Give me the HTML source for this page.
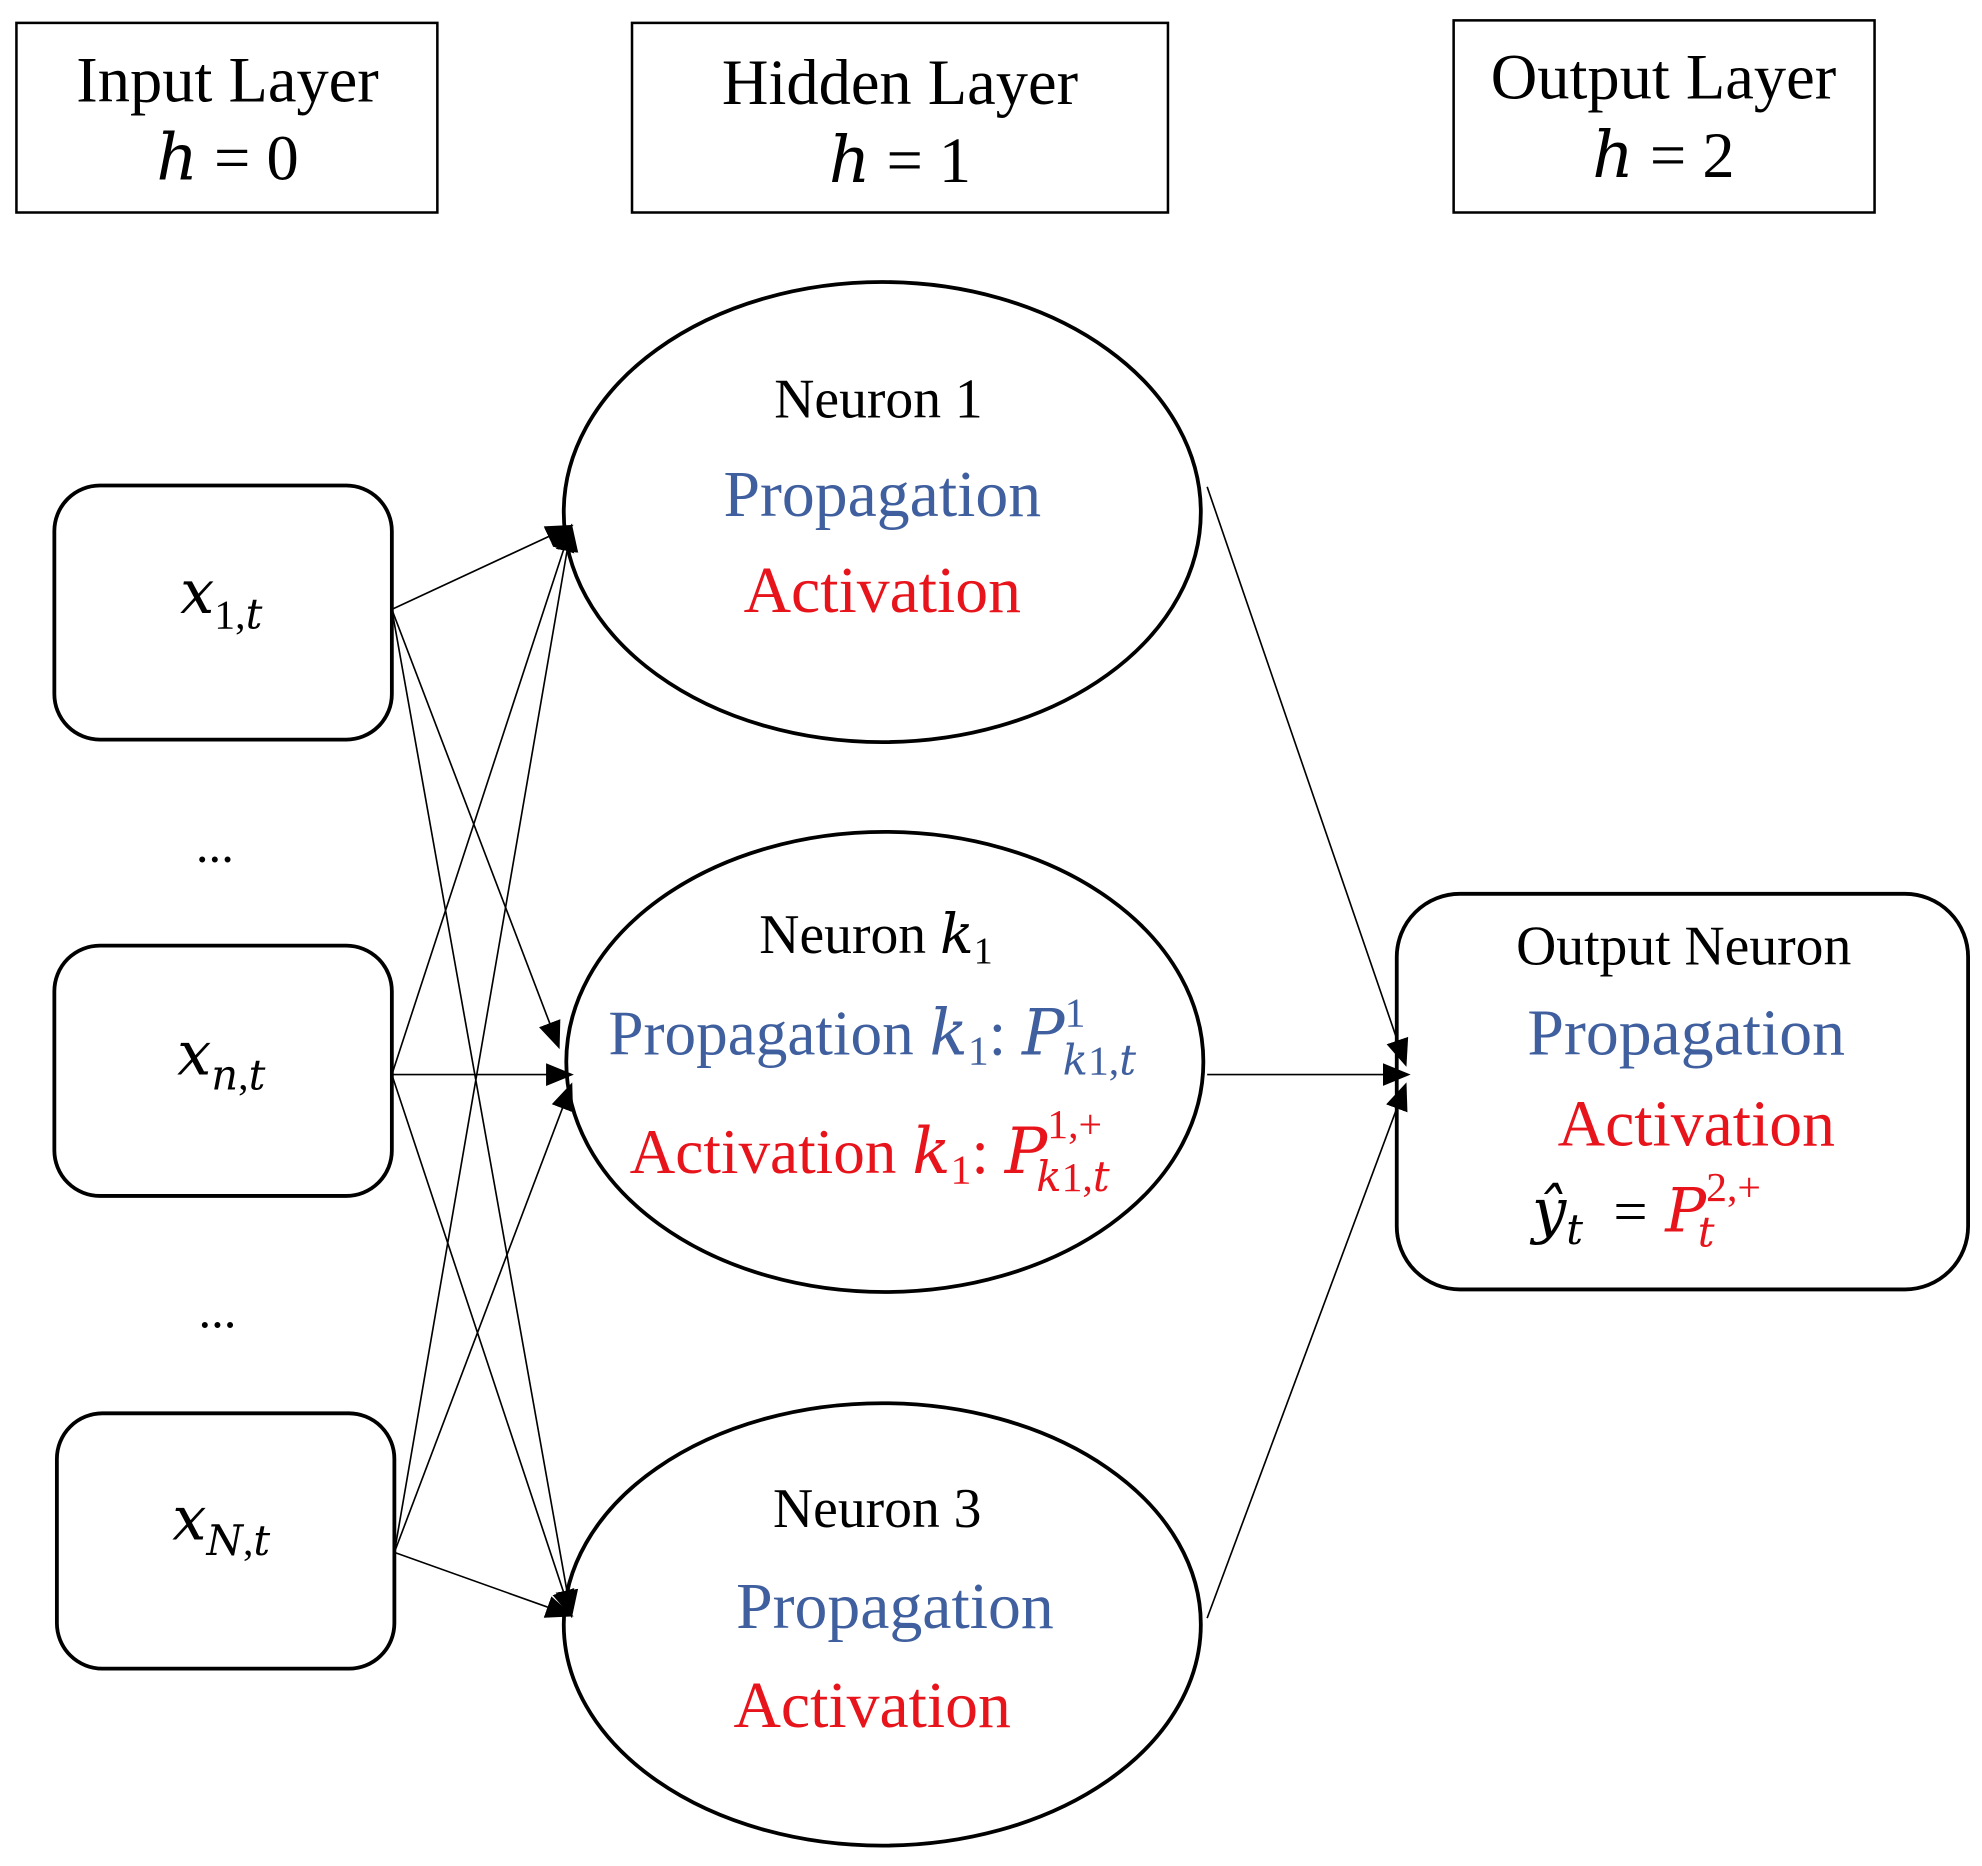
<!DOCTYPE html>
<html><head><meta charset="utf-8"><style>
html,body{margin:0;padding:0;background:#fff}
svg{display:block}
.t{font-family:"Liberation Serif",serif;fill:#000}
.m{font-family:"DejaVu Serif","Liberation Serif",serif;font-style:italic}
.b{fill:#3f5f9f}.r{fill:#e8141c}
</style></head><body>
<svg width="1982" height="1866" viewBox="0 0 1568 1476" xmlns="http://www.w3.org/2000/svg">
<defs>
<marker id="A" markerWidth="22" markerHeight="22" refX="20" refY="11" orient="auto" markerUnits="userSpaceOnUse" viewBox="0 0 22 22"><path d="M0,2 L22,11 L0,20 z" fill="#000"/></marker></defs>
<g fill="none" stroke="#000" stroke-width="2">
<rect x="13" y="18" width="333" height="150"/>
<rect x="500" y="18" width="424" height="150"/>
<rect x="1150" y="16" width="333" height="152"/>
</g>
<g fill="none" stroke="#000" stroke-width="3">
<rect x="43" y="384" width="267" height="201" rx="36"/>
<rect x="43" y="748" width="267" height="198" rx="36"/>
<rect x="45" y="1118" width="267" height="202" rx="36"/>
<ellipse cx="698" cy="405" rx="252" ry="182"/>
<ellipse cx="700" cy="840" rx="252" ry="182"/>
<ellipse cx="698" cy="1285" rx="252" ry="175"/>
<rect x="1105" y="707" width="452" height="313" rx="50"/>
</g>
<g stroke="#000" stroke-width="1.3" marker-end="url(#A)">
<line x1="310" y1="482" x2="452" y2="416"/>
<line x1="310" y1="482" x2="442" y2="828"/>
<line x1="310" y1="482" x2="452" y2="1278"/>
<line x1="310" y1="850" x2="452" y2="416"/>
<line x1="310" y1="850" x2="452" y2="850"/>
<line x1="310" y1="850" x2="452" y2="1278"/>
<line x1="312" y1="1228" x2="452" y2="416"/>
<line x1="312" y1="1228" x2="452" y2="858"/>
<line x1="312" y1="1228" x2="452" y2="1278"/>
<line x1="955" y1="385" x2="1112" y2="842"/>
<line x1="955" y1="850" x2="1114" y2="850"/>
<line x1="955" y1="1280" x2="1112" y2="858"/>
</g>
<g class="t" font-size="51" text-anchor="middle">
<text x="180" y="80">Input Layer</text>
<text x="180" y="142"><tspan class="m">h</tspan> = 0</text>
<text x="712" y="82">Hidden Layer</text>
<text x="712" y="144"><tspan class="m">h</tspan> = 1</text>
<text x="1316" y="78">Output Layer</text>
<text x="1316" y="140"><tspan class="m">h</tspan> = 2</text>
</g>
<g class="t" text-anchor="middle">
<text x="175" y="485" font-size="48"><tspan class="m">x</tspan><tspan font-size="33" dy="12">1,<tspan class="m">t</tspan></tspan></text>
<text x="175" y="850" font-size="48"><tspan class="m">x</tspan><tspan font-size="33" dy="12"><tspan class="m">n</tspan>,<tspan class="m">t</tspan></tspan></text>
<text x="175" y="1218" font-size="48"><tspan class="m">x</tspan><tspan font-size="33" dy="12"><tspan class="m">N</tspan>,<tspan class="m">t</tspan></tspan></text>
<text x="170" y="682" font-size="40">...</text>
<text x="172" y="1050" font-size="40">...</text>
<text x="695" y="330" font-size="44">Neuron 1</text>
<text x="698" y="408" font-size="52" class="b">Propagation</text>
<text x="698" y="484" font-size="52" class="r">Activation</text>
<text x="693" y="754" font-size="44">Neuron <tspan class="m">k</tspan><tspan font-size="30" dy="8">1</tspan></text>
<text x="690" y="834" font-size="50" class="b">Propagation <tspan class="m">k</tspan><tspan font-size="33" dy="8">1</tspan><tspan dy="-8">: </tspan><tspan class="m">P</tspan><tspan font-size="33" dy="-22">1</tspan><tspan font-size="33" dx="-18" dy="38"><tspan class="m">k</tspan>1,<tspan class="m">t</tspan></tspan></text>
<text x="688" y="928" font-size="50" class="r">Activation <tspan class="m">k</tspan><tspan font-size="33" dy="8">1</tspan><tspan dy="-8">: </tspan><tspan class="m">P</tspan><tspan font-size="33" dy="-28">1,+</tspan><tspan font-size="33" dx="-52" dy="42"><tspan class="m">k</tspan>1,<tspan class="m">t</tspan></tspan></text>
<text x="694" y="1208" font-size="44">Neuron 3</text>
<text x="708" y="1288" font-size="52" class="b">Propagation</text>
<text x="690" y="1366" font-size="52" class="r">Activation</text>
<text x="1332" y="763" font-size="44">Output Neuron</text>
<text x="1334" y="834" font-size="52" class="b">Propagation</text>
<text x="1342" y="906" font-size="52" class="r">Activation</text>
</g>
<text x="1212" y="974" class="t" font-size="48"><tspan class="m">ŷ</tspan><tspan class="m" font-size="33" dy="10">t</tspan><tspan dx="24" dy="-10">=</tspan><tspan class="m r" dx="14">P</tspan><tspan class="r" font-size="33" dy="-24">2,+</tspan><tspan class="m r" font-size="33" dx="-50" dy="36">t</tspan></text>
</svg>
</body></html>
